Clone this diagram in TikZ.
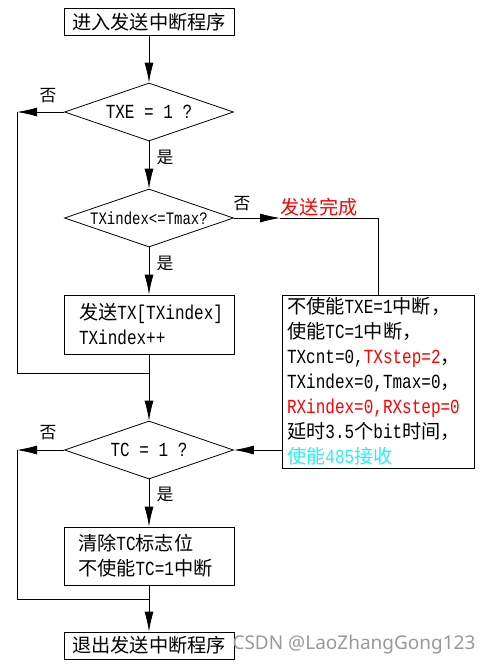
\documentclass[tikz,border=0pt]{standalone}
\usepackage{fontspec}
\setmainfont{Liberation Mono}[FakeStretch=0.8]
\newfontfamily\cjk[Scale=0.96]{Noto Sans CJK SC}
\newfontfamily\wmfont{Noto Sans}
\newcommand\zh[1]{{\cjk #1}}
\definecolor{aqua}{RGB}{40,240,240}
\usetikzlibrary{shapes.geometric,arrows.meta}

\begin{document}
\begin{tikzpicture}[x=1pt, y=-1pt, line width=0.8pt,
    every node/.style={font=\fontsize{20}{25}\selectfont},
    box/.style={draw, rectangle, minimum width=170pt, inner sep=0pt},
    decision/.style={draw, diamond, aspect=2.9, minimum width=169pt, minimum height=58pt, inner sep=0pt},
    arr/.style={-{Latex[length=20pt,width=9pt]}},
    answer/.style={font=\fontsize{17.5}{20}\selectfont}]
      \useasboundingbox (0,0) rectangle (487,670);

      % Start
      \node[box, minimum height=27pt] (start) at (149,22) {\zh{进入发送中断程序}};

      % TXE check
      \node[decision] (txe) at (149,112) {TXE = 1 ?};
      \node[answer] (txeno) at (48,96) {\zh{否}};
      \node[answer] (txeyes) at (165,157) {\zh{是}};

      % Index check
      \node[decision, font=\fontsize{17.5}{20}\selectfont] (idx) at (149,218) {TXindex<=Tmax?};
      \node[answer] (idxno) at (242,204) {\zh{否}};
      \node[answer] (idxyes) at (165,263) {\zh{是}};
      \node[text=red] (done) at (319,207) {\zh{发送完成}};
      \coordinate (donept) at (280,218);

      % Send byte
      \node[box, minimum height=59pt, text width=140pt, align=left] (send) at (149,324.5)
        {\zh{发送}TX[TXindex]\\TXindex++};

      % Finish sending
      \node[draw, minimum width=192pt, minimum height=173pt, inner sep=0pt,
            text width=182pt, align=left] (info) at (378,381.5)
        {\zh{不使能}TXE=1\zh{中断，}\\
         \zh{使能}TC=1\zh{中断，}\\
         TXcnt=0,\textcolor{red}{TXstep=2}\zh{，}\\
         TXindex=0,Tmax=0\zh{，}\\
         \textcolor{red}{RXindex=0,RXstep=0}\\
         \zh{延时}3.5\zh{个}bit\zh{时间，}\\
         \textcolor{aqua}{\zh{使能}485\zh{接收}}};

      % TC check
      \node[decision] (tc) at (149,450) {TC = 1 ?};
      \node[answer] (tcno) at (48,433) {\zh{否}};
      \node[answer] (tcyes) at (165,494) {\zh{是}};

      % Clear flag
      \node[box, minimum height=58pt, text width=142pt, align=left] (clear) at (149,556)
        {\zh{清除}TC\zh{标志位}\\\zh{不使能}TC=1\zh{中断}};

      % Exit
      \node[box, minimum height=27pt] (exit) at (149,645.5) {\zh{退出发送中断程序}};
      \node[text=black!40, font=\wmfont\fontsize{19}{22}\selectfont] (mark) at (354,645) {CSDN @LaoZhangGong123};

      % loop points
      \coordinate (txeleft) at (17,112);
      \coordinate (txejoin) at (149,373);
      \coordinate (tcleft) at (17,450);
      \coordinate (tcjoin) at (149,599);

      % Connectors
      \draw[arr] (start) -- (txe);
      \draw[arr] (txe) -- (idx);
      \draw[arr] (idx) -- (send);
      \draw[arr] (send) -- (tc);
      \draw[arr] (tc) -- (clear);
      \draw[arr] (clear) -- (exit);
      \draw[arr] (txe.west) -- (txeleft);
      \draw (txeleft) |- (txejoin);
      \draw[arr] (idx.east) -- (donept);
      \draw (donept) -| (info.north);
      \draw[arr] (info.west |- tc.east) -- (tc.east);
      \draw[arr] (tc.west) -- (tcleft);
      \draw (tcleft) |- (tcjoin);
    \end{tikzpicture}
\end{document}
